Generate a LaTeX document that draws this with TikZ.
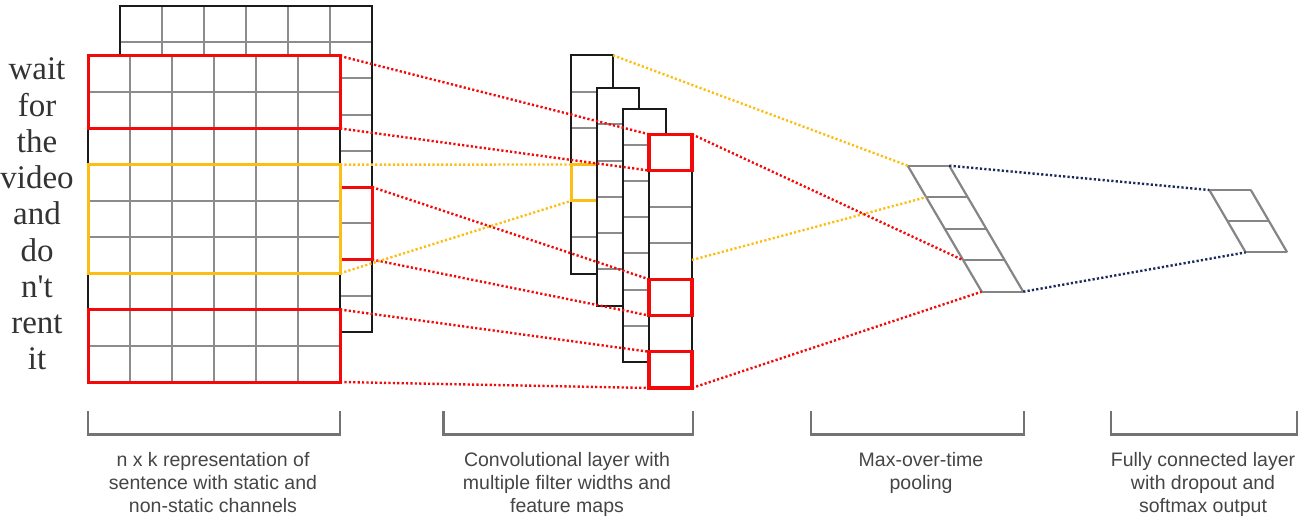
\documentclass[tikz,border=0pt]{standalone}
\usepackage{fontspec}
\setmainfont{Liberation Serif}
\newfontfamily\labelfont{Liberation Sans}
\definecolor{gridgray}{HTML}{8C8C8C}
\definecolor{boxblack}{HTML}{1A1A1A}
\definecolor{kimred}{HTML}{F20A0A}
\definecolor{kimyellow}{HTML}{FCBE14}
\definecolor{kimnavy}{HTML}{1B2A5C}
\definecolor{pooltone}{HTML}{858585}
\definecolor{wordtext}{HTML}{333333}
\definecolor{labeltext}{HTML}{454545}
\definecolor{brackettone}{HTML}{737373}
\tikzset{
  gridline/.style={draw=gridgray, line width=2pt},
  blackbox/.style={draw=boxblack, line width=2pt},
  redbox/.style={draw=kimred, line width=3pt},
  redboxthick/.style={draw=kimred, line width=3.4pt},
  yellowbox/.style={draw=kimyellow, line width=3pt},
  poolline/.style={draw=pooltone, line width=2.2pt},
  dotline/.style={line width=2.4pt, dash pattern=on 2.2pt off 2.2pt},
  reddot/.style={dotline, draw=kimred},
  yellowdot/.style={dotline, draw=kimyellow},
  navydot/.style={dotline, draw=kimnavy},
  word/.style={font=\fontsize{33}{36}\selectfont, text=wordtext, inner sep=0pt, anchor=base},
  caption/.style={font=\labelfont\fontsize{19.5}{23.2}\selectfont, text=labeltext, align=center, inner sep=0pt, anchor=north},
  bracketline/.style={draw=brackettone, line width=2.2pt},
}
\begin{document}
\begin{tikzpicture}[x=1pt,y=-1pt]
\useasboundingbox (0,0) rectangle (1300,518);

% ---------- back matrix (static channel) ----------
\fill[white] (120,6) rectangle (372,332);
\foreach \c in {1,...,5} \draw[gridline] (120+42*\c,6) -- (120+42*\c,332);
\foreach \r in {1,...,8} \draw[gridline] (120,6+36.22*\r) -- (372,6+36.22*\r);
\draw[blackbox] (120,6) rectangle (372,332);
\draw[redbox] (340,187.1) rectangle (372,259.54);

% ---------- front matrix (non-static channel) ----------
\fill[white] (88,56) rectangle (340,382);
\foreach \c in {1,...,5} \draw[gridline] (88+42*\c,56) -- (88+42*\c,382);
\foreach \r in {1,...,8} \draw[gridline] (88,56+36.22*\r) -- (340,56+36.22*\r);
\draw[blackbox] (88,56) rectangle (340,382);
\draw[redbox] (88,56) rectangle (340,128.44);
\draw[yellowbox] (88,164.66) rectangle (340,273.32);
\draw[redbox] (88,309.54) rectangle (340,382);

% ---------- words ----------
\foreach \w [count=\i from 0] in {wait,for,the,video,and,do,n\textquotesingle t,rent,it}
  \node[word] (w\i) at (37,80+36.22*\i) {\w};

% ---------- convolutional feature maps ----------
% map 1
\fill[white] (571,55.3) rectangle (613,273.7);
\foreach \r in {1,...,5} \draw[gridline] (571,55.3+36.4*\r) -- (613,55.3+36.4*\r);
\draw[blackbox] (571,55.3) rectangle (613,273.7);
\draw[yellowbox] (571,164.5) rectangle (613,200.9);
% map 2
\fill[white] (597,88) rectangle (639,305.8);
\foreach \r in {1,...,5} \draw[gridline] (597,88+36.3*\r) -- (639,88+36.3*\r);
\draw[blackbox] (597,88) rectangle (639,305.8);
% map 3
\fill[white] (623,108.7) rectangle (665.5,362);
\foreach \r in {1,...,6} \draw[gridline] (623,108.7+36.19*\r) -- (665.5,108.7+36.19*\r);
\draw[blackbox] (623,108.7) rectangle (665.5,362);
% map 4
\fill[white] (649,134.3) rectangle (692,387.98);
\foreach \r in {1,...,6} \draw[gridline] (649,134.3+36.24*\r) -- (692,134.3+36.24*\r);
\draw[blackbox] (649,134.3) rectangle (692,387.98);
\draw[redboxthick] (649,134.3) rectangle (692,170.54);
\draw[redboxthick] (649,279.26) rectangle (692,315.5);
\draw[redboxthick] (649,351.74) rectangle (692,387.98);

% ---------- max-over-time pooling ----------
\foreach \i in {0,...,4} {
  \coordinate (pl\i) at (907.7+18.5*\i,165.7+31.5*\i);
  \coordinate (pr\i) at (949.2+18.5*\i,165.7+31.5*\i);
  \draw[poolline] (pl\i) -- (pr\i);
}
\draw[poolline] (pl0) -- (pl4);
\draw[poolline] (pr0) -- (pr4);

% ---------- fully connected output ----------
\foreach \i in {0,...,2} {
  \coordinate (ol\i) at (1209.3+18.2*\i,190+31.2*\i);
  \coordinate (or\i) at (1250.8+18.2*\i,190+31.2*\i);
  \draw[poolline] (ol\i) -- (or\i);
}
\draw[poolline] (ol0) -- (ol2);
\draw[poolline] (or0) -- (or2);

% ---------- named connector ends ----------
\coordinate (fr1a) at (340,56);
\coordinate (fr1b) at (340,128.44);
\coordinate (fy1a) at (340,164.66);
\coordinate (fy1b) at (340,273.32);
\coordinate (br1a) at (372,187.1);
\coordinate (br1b) at (372,259.54);
\coordinate (fr2a) at (340,309.54);
\coordinate (fr2b) at (340,382);
\coordinate (m1tr) at (613,55.3);
\coordinate (m1ya) at (571,164.5);
\coordinate (m1yb) at (571,200.9);
\coordinate (m4r0a) at (649,134.3);
\coordinate (m4r0b) at (649,170.54);
\coordinate (m4r4a) at (649,279.26);
\coordinate (m4r4b) at (649,315.5);
\coordinate (m4r6a) at (649,351.74);
\coordinate (m4r6b) at (649,387.98);
\coordinate (m4tr) at (692,134.3);
\coordinate (m4br) at (692,387.98);
\coordinate (m4y) at (692,260);

% ---------- dotted connectors ----------
\draw[reddot] (fr1a) -- (m4r0a);
\draw[reddot] (fr1b) -- (m4r0b);
\draw[reddot] (br1a) -- (m4r4a);
\draw[reddot] (br1b) -- (m4r4b);
\draw[reddot] (fr2a) -- (m4r6a);
\draw[reddot] (fr2b) -- (m4r6b);
\draw[yellowdot] (fy1a) -- (m1ya);
\draw[yellowdot] (fy1b) -- (m1yb);
\draw[yellowdot] (m1tr) -- (pl0);
\draw[yellowdot] (m4y) -- (pl1);
\draw[reddot] (m4tr) -- (pl3);
\draw[reddot] (m4br) -- (pl4);
\draw[navydot] (pr0) -- (ol0);
\draw[navydot] (pr4) -- (ol2);

% ---------- brackets ----------
\draw[bracketline] (88,411) -- (88,434.5) -- (340,434.5) -- (340,411);
\draw[bracketline] (443.5,411) -- (443.5,434.5) -- (693,434.5) -- (693,411);
\draw[bracketline] (811,411) -- (811,434.5) -- (1024,434.5) -- (1024,411);
\draw[bracketline] (1111,411) -- (1111,434.5) -- (1297,434.5) -- (1297,411);

% ---------- captions ----------
\node[caption] (cap1) at (213,452.2) {n x k representation of\\sentence with static and\\non-static channels};
\node[caption] (cap2) at (567,452.2) {Convolutional layer with\\multiple filter widths and\\feature maps};
\node[caption] (cap3) at (921,452.2) {Max-over-time\\pooling};
\node[caption] (cap4) at (1203,452.2) {Fully connected layer\\with dropout and\\softmax output};
\end{tikzpicture}
\end{document}
